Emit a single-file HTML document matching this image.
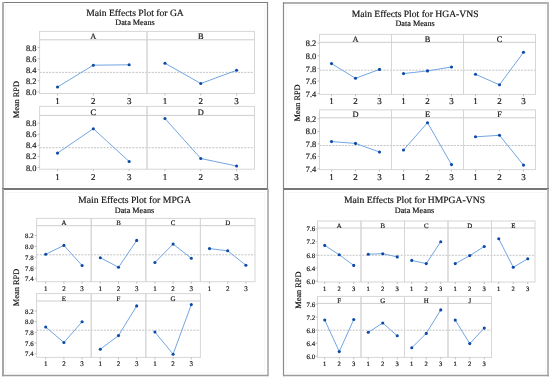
<!DOCTYPE html>
<html><head><meta charset="utf-8"><title>Main Effects Plots</title>
<style>
html,body{margin:0;padding:0;background:#fff;}
body{width:550px;height:382px;overflow:hidden;}
svg{display:block;}
text{text-rendering:geometricPrecision;font-family:"Liberation Serif", "Times New Roman", serif;fill:#111;stroke:#111;stroke-width:0.18px;}
</style></head><body>
<svg width="550" height="382" viewBox="0 0 550 382">
<rect x="0" y="0" width="550" height="382" fill="#fff"/>
<rect x="5.5" y="5.5" width="259" height="180" fill="none" stroke="#f7f7f7" stroke-width="1"/>
<text x="135" y="16.4" font-size="9.65" text-anchor="middle">Main Effects Plot for GA</text>
<text x="135" y="25.2" font-size="8.2" text-anchor="middle">Data Means</text>
<text transform="translate(19.1,99.6) rotate(-90)" font-size="8.3" text-anchor="middle">Mean RPD</text>
<line x1="39.6" y1="72.4" x2="254.5" y2="72.4" stroke="#bcbcbc" stroke-width="0.9" stroke-dasharray="2 1.2"/>
<rect x="39.6" y="31.4" width="107.45" height="62.1" fill="none" stroke="#d6d6d6" stroke-width="1"/>
<line x1="39.6" y1="39.8" x2="147.05" y2="39.8" stroke="#cecece" stroke-width="1"/>
<text x="93.33" y="38.95" font-size="8.4" text-anchor="middle">A</text>
<polyline points="57.51,87 93.33,65.2 129.14,64.8" fill="none" stroke="#6aa0e0" stroke-width="0.95"/>
<circle cx="57.51" cy="87" r="1.55" fill="#0b4aa6"/>
<circle cx="93.33" cy="65.2" r="1.55" fill="#0b4aa6"/>
<circle cx="129.14" cy="64.8" r="1.55" fill="#0b4aa6"/>
<line x1="57.51" y1="93.5" x2="57.51" y2="95.5" stroke="#b0b0b0" stroke-width="0.8"/>
<text x="57.51" y="104.2" font-size="9" text-anchor="middle">1</text>
<line x1="93.33" y1="93.5" x2="93.33" y2="95.5" stroke="#b0b0b0" stroke-width="0.8"/>
<text x="93.33" y="104.2" font-size="9" text-anchor="middle">2</text>
<line x1="129.14" y1="93.5" x2="129.14" y2="95.5" stroke="#b0b0b0" stroke-width="0.8"/>
<text x="129.14" y="104.2" font-size="9" text-anchor="middle">3</text>
<rect x="147.05" y="31.4" width="107.45" height="62.1" fill="none" stroke="#d6d6d6" stroke-width="1"/>
<line x1="147.05" y1="39.8" x2="254.5" y2="39.8" stroke="#cecece" stroke-width="1"/>
<text x="200.78" y="38.95" font-size="8.4" text-anchor="middle">B</text>
<polyline points="164.96,63.2 200.78,83.5 236.59,70.3" fill="none" stroke="#6aa0e0" stroke-width="0.95"/>
<circle cx="164.96" cy="63.2" r="1.55" fill="#0b4aa6"/>
<circle cx="200.78" cy="83.5" r="1.55" fill="#0b4aa6"/>
<circle cx="236.59" cy="70.3" r="1.55" fill="#0b4aa6"/>
<line x1="164.96" y1="93.5" x2="164.96" y2="95.5" stroke="#b0b0b0" stroke-width="0.8"/>
<text x="164.96" y="104.2" font-size="9" text-anchor="middle">1</text>
<line x1="200.78" y1="93.5" x2="200.78" y2="95.5" stroke="#b0b0b0" stroke-width="0.8"/>
<text x="200.78" y="104.2" font-size="9" text-anchor="middle">2</text>
<line x1="236.59" y1="93.5" x2="236.59" y2="95.5" stroke="#b0b0b0" stroke-width="0.8"/>
<text x="236.59" y="104.2" font-size="9" text-anchor="middle">3</text>
<line x1="37.6" y1="47.5" x2="39.6" y2="47.5" stroke="#b0b0b0" stroke-width="0.8"/>
<text x="36.4" y="50.61" font-size="8.4" text-anchor="end">8.8</text>
<line x1="37.6" y1="58.6" x2="39.6" y2="58.6" stroke="#b0b0b0" stroke-width="0.8"/>
<text x="36.4" y="61.71" font-size="8.4" text-anchor="end">8.6</text>
<line x1="37.6" y1="69.7" x2="39.6" y2="69.7" stroke="#b0b0b0" stroke-width="0.8"/>
<text x="36.4" y="72.81" font-size="8.4" text-anchor="end">8.4</text>
<line x1="37.6" y1="80.8" x2="39.6" y2="80.8" stroke="#b0b0b0" stroke-width="0.8"/>
<text x="36.4" y="83.91" font-size="8.4" text-anchor="end">8.2</text>
<line x1="37.6" y1="91.9" x2="39.6" y2="91.9" stroke="#b0b0b0" stroke-width="0.8"/>
<text x="36.4" y="95.01" font-size="8.4" text-anchor="end">8.0</text>
<line x1="39.6" y1="147.7" x2="254.5" y2="147.7" stroke="#bcbcbc" stroke-width="0.9" stroke-dasharray="2 1.2"/>
<rect x="39.6" y="106.4" width="107.45" height="62.8" fill="none" stroke="#d6d6d6" stroke-width="1"/>
<line x1="39.6" y1="115.4" x2="147.05" y2="115.4" stroke="#cecece" stroke-width="1"/>
<text x="93.33" y="114.55" font-size="8.4" text-anchor="middle">C</text>
<polyline points="57.51,153.1 93.33,128.7 129.14,161.5" fill="none" stroke="#6aa0e0" stroke-width="0.95"/>
<circle cx="57.51" cy="153.1" r="1.55" fill="#0b4aa6"/>
<circle cx="93.33" cy="128.7" r="1.55" fill="#0b4aa6"/>
<circle cx="129.14" cy="161.5" r="1.55" fill="#0b4aa6"/>
<line x1="57.51" y1="169.2" x2="57.51" y2="171.2" stroke="#b0b0b0" stroke-width="0.8"/>
<text x="57.51" y="179.9" font-size="9" text-anchor="middle">1</text>
<line x1="93.33" y1="169.2" x2="93.33" y2="171.2" stroke="#b0b0b0" stroke-width="0.8"/>
<text x="93.33" y="179.9" font-size="9" text-anchor="middle">2</text>
<line x1="129.14" y1="169.2" x2="129.14" y2="171.2" stroke="#b0b0b0" stroke-width="0.8"/>
<text x="129.14" y="179.9" font-size="9" text-anchor="middle">3</text>
<rect x="147.05" y="106.4" width="107.45" height="62.8" fill="none" stroke="#d6d6d6" stroke-width="1"/>
<line x1="147.05" y1="115.4" x2="254.5" y2="115.4" stroke="#cecece" stroke-width="1"/>
<text x="200.78" y="114.55" font-size="8.4" text-anchor="middle">D</text>
<polyline points="164.96,118.5 200.78,158.5 236.59,166" fill="none" stroke="#6aa0e0" stroke-width="0.95"/>
<circle cx="164.96" cy="118.5" r="1.55" fill="#0b4aa6"/>
<circle cx="200.78" cy="158.5" r="1.55" fill="#0b4aa6"/>
<circle cx="236.59" cy="166" r="1.55" fill="#0b4aa6"/>
<line x1="164.96" y1="169.2" x2="164.96" y2="171.2" stroke="#b0b0b0" stroke-width="0.8"/>
<text x="164.96" y="179.9" font-size="9" text-anchor="middle">1</text>
<line x1="200.78" y1="169.2" x2="200.78" y2="171.2" stroke="#b0b0b0" stroke-width="0.8"/>
<text x="200.78" y="179.9" font-size="9" text-anchor="middle">2</text>
<line x1="236.59" y1="169.2" x2="236.59" y2="171.2" stroke="#b0b0b0" stroke-width="0.8"/>
<text x="236.59" y="179.9" font-size="9" text-anchor="middle">3</text>
<line x1="37.6" y1="123.2" x2="39.6" y2="123.2" stroke="#b0b0b0" stroke-width="0.8"/>
<text x="36.4" y="126.31" font-size="8.4" text-anchor="end">8.8</text>
<line x1="37.6" y1="134.25" x2="39.6" y2="134.25" stroke="#b0b0b0" stroke-width="0.8"/>
<text x="36.4" y="137.36" font-size="8.4" text-anchor="end">8.6</text>
<line x1="37.6" y1="145.3" x2="39.6" y2="145.3" stroke="#b0b0b0" stroke-width="0.8"/>
<text x="36.4" y="148.41" font-size="8.4" text-anchor="end">8.4</text>
<line x1="37.6" y1="156.35" x2="39.6" y2="156.35" stroke="#b0b0b0" stroke-width="0.8"/>
<text x="36.4" y="159.46" font-size="8.4" text-anchor="end">8.2</text>
<line x1="37.6" y1="167.4" x2="39.6" y2="167.4" stroke="#b0b0b0" stroke-width="0.8"/>
<text x="36.4" y="170.51" font-size="8.4" text-anchor="end">8.0</text>
<line x1="2" y1="2.5" x2="268" y2="2.5" stroke="#7d7d7d" stroke-width="1.2"/>
<line x1="3" y1="2" x2="3" y2="189" stroke="#aeaeae" stroke-width="2"/>
<line x1="267.5" y1="2" x2="267.5" y2="189" stroke="#888" stroke-width="1.2"/>
<line x1="2" y1="188.5" x2="268" y2="188.5" stroke="#777" stroke-width="1"/>
<rect x="286.5" y="5.5" width="259" height="180" fill="none" stroke="#f7f7f7" stroke-width="1"/>
<text x="415.1" y="16.8" font-size="9.62" text-anchor="middle">Main Effects Plot for HGA-VNS</text>
<text x="415.1" y="25.8" font-size="8.2" text-anchor="middle">Data Means</text>
<text transform="translate(300.4,103) rotate(-90)" font-size="8.3" text-anchor="middle">Mean RPD</text>
<line x1="319.5" y1="70.2" x2="535.5" y2="70.2" stroke="#bcbcbc" stroke-width="0.9" stroke-dasharray="2 1.2"/>
<rect x="319.5" y="34.4" width="72" height="60" fill="none" stroke="#d6d6d6" stroke-width="1"/>
<line x1="319.5" y1="42.3" x2="391.5" y2="42.3" stroke="#cecece" stroke-width="1"/>
<text x="355.5" y="42.2" font-size="8.4" text-anchor="middle">A</text>
<polyline points="331.5,63.6 355.5,78.3 379.5,69.4" fill="none" stroke="#6aa0e0" stroke-width="0.95"/>
<circle cx="331.5" cy="63.6" r="1.55" fill="#0b4aa6"/>
<circle cx="355.5" cy="78.3" r="1.55" fill="#0b4aa6"/>
<circle cx="379.5" cy="69.4" r="1.55" fill="#0b4aa6"/>
<line x1="331.5" y1="94.4" x2="331.5" y2="96.4" stroke="#b0b0b0" stroke-width="0.8"/>
<text x="331.5" y="104.1" font-size="9" text-anchor="middle">1</text>
<line x1="355.5" y1="94.4" x2="355.5" y2="96.4" stroke="#b0b0b0" stroke-width="0.8"/>
<text x="355.5" y="104.1" font-size="9" text-anchor="middle">2</text>
<line x1="379.5" y1="94.4" x2="379.5" y2="96.4" stroke="#b0b0b0" stroke-width="0.8"/>
<text x="379.5" y="104.1" font-size="9" text-anchor="middle">3</text>
<rect x="391.5" y="34.4" width="72" height="60" fill="none" stroke="#d6d6d6" stroke-width="1"/>
<line x1="391.5" y1="42.3" x2="463.5" y2="42.3" stroke="#cecece" stroke-width="1"/>
<text x="427.5" y="42.2" font-size="8.4" text-anchor="middle">B</text>
<polyline points="403.5,73.6 427.5,70.9 451.5,67" fill="none" stroke="#6aa0e0" stroke-width="0.95"/>
<circle cx="403.5" cy="73.6" r="1.55" fill="#0b4aa6"/>
<circle cx="427.5" cy="70.9" r="1.55" fill="#0b4aa6"/>
<circle cx="451.5" cy="67" r="1.55" fill="#0b4aa6"/>
<line x1="403.5" y1="94.4" x2="403.5" y2="96.4" stroke="#b0b0b0" stroke-width="0.8"/>
<text x="403.5" y="104.1" font-size="9" text-anchor="middle">1</text>
<line x1="427.5" y1="94.4" x2="427.5" y2="96.4" stroke="#b0b0b0" stroke-width="0.8"/>
<text x="427.5" y="104.1" font-size="9" text-anchor="middle">2</text>
<line x1="451.5" y1="94.4" x2="451.5" y2="96.4" stroke="#b0b0b0" stroke-width="0.8"/>
<text x="451.5" y="104.1" font-size="9" text-anchor="middle">3</text>
<rect x="463.5" y="34.4" width="72" height="60" fill="none" stroke="#d6d6d6" stroke-width="1"/>
<line x1="463.5" y1="42.3" x2="535.5" y2="42.3" stroke="#cecece" stroke-width="1"/>
<text x="499.5" y="42.2" font-size="8.4" text-anchor="middle">C</text>
<polyline points="475.5,74.3 499.5,84.8 523.5,52.3" fill="none" stroke="#6aa0e0" stroke-width="0.95"/>
<circle cx="475.5" cy="74.3" r="1.55" fill="#0b4aa6"/>
<circle cx="499.5" cy="84.8" r="1.55" fill="#0b4aa6"/>
<circle cx="523.5" cy="52.3" r="1.55" fill="#0b4aa6"/>
<line x1="475.5" y1="94.4" x2="475.5" y2="96.4" stroke="#b0b0b0" stroke-width="0.8"/>
<text x="475.5" y="104.1" font-size="9" text-anchor="middle">1</text>
<line x1="499.5" y1="94.4" x2="499.5" y2="96.4" stroke="#b0b0b0" stroke-width="0.8"/>
<text x="499.5" y="104.1" font-size="9" text-anchor="middle">2</text>
<line x1="523.5" y1="94.4" x2="523.5" y2="96.4" stroke="#b0b0b0" stroke-width="0.8"/>
<text x="523.5" y="104.1" font-size="9" text-anchor="middle">3</text>
<line x1="317.5" y1="43.2" x2="319.5" y2="43.2" stroke="#b0b0b0" stroke-width="0.8"/>
<text x="316.3" y="46.31" font-size="8.4" text-anchor="end">8.2</text>
<line x1="317.5" y1="55.83" x2="319.5" y2="55.83" stroke="#b0b0b0" stroke-width="0.8"/>
<text x="316.3" y="58.93" font-size="8.4" text-anchor="end">8.0</text>
<line x1="317.5" y1="68.45" x2="319.5" y2="68.45" stroke="#b0b0b0" stroke-width="0.8"/>
<text x="316.3" y="71.56" font-size="8.4" text-anchor="end">7.8</text>
<line x1="317.5" y1="81.08" x2="319.5" y2="81.08" stroke="#b0b0b0" stroke-width="0.8"/>
<text x="316.3" y="84.18" font-size="8.4" text-anchor="end">7.6</text>
<line x1="317.5" y1="93.7" x2="319.5" y2="93.7" stroke="#b0b0b0" stroke-width="0.8"/>
<text x="316.3" y="96.81" font-size="8.4" text-anchor="end">7.4</text>
<line x1="319.5" y1="145.5" x2="535.5" y2="145.5" stroke="#bcbcbc" stroke-width="0.9" stroke-dasharray="2 1.2"/>
<rect x="319.5" y="109.9" width="72" height="59.7" fill="none" stroke="#d6d6d6" stroke-width="1"/>
<line x1="319.5" y1="117.8" x2="391.5" y2="117.8" stroke="#cecece" stroke-width="1"/>
<text x="355.5" y="117.3" font-size="8.4" text-anchor="middle">D</text>
<polyline points="331.5,141.6 355.5,143.4 379.5,152" fill="none" stroke="#6aa0e0" stroke-width="0.95"/>
<circle cx="331.5" cy="141.6" r="1.55" fill="#0b4aa6"/>
<circle cx="355.5" cy="143.4" r="1.55" fill="#0b4aa6"/>
<circle cx="379.5" cy="152" r="1.55" fill="#0b4aa6"/>
<line x1="331.5" y1="169.6" x2="331.5" y2="171.6" stroke="#b0b0b0" stroke-width="0.8"/>
<text x="331.5" y="179.8" font-size="9" text-anchor="middle">1</text>
<line x1="355.5" y1="169.6" x2="355.5" y2="171.6" stroke="#b0b0b0" stroke-width="0.8"/>
<text x="355.5" y="179.8" font-size="9" text-anchor="middle">2</text>
<line x1="379.5" y1="169.6" x2="379.5" y2="171.6" stroke="#b0b0b0" stroke-width="0.8"/>
<text x="379.5" y="179.8" font-size="9" text-anchor="middle">3</text>
<rect x="391.5" y="109.9" width="72" height="59.7" fill="none" stroke="#d6d6d6" stroke-width="1"/>
<line x1="391.5" y1="117.8" x2="463.5" y2="117.8" stroke="#cecece" stroke-width="1"/>
<text x="427.5" y="117.3" font-size="8.4" text-anchor="middle">E</text>
<polyline points="403.5,150 427.5,122.7 451.5,164.6" fill="none" stroke="#6aa0e0" stroke-width="0.95"/>
<circle cx="403.5" cy="150" r="1.55" fill="#0b4aa6"/>
<circle cx="427.5" cy="122.7" r="1.55" fill="#0b4aa6"/>
<circle cx="451.5" cy="164.6" r="1.55" fill="#0b4aa6"/>
<line x1="403.5" y1="169.6" x2="403.5" y2="171.6" stroke="#b0b0b0" stroke-width="0.8"/>
<text x="403.5" y="179.8" font-size="9" text-anchor="middle">1</text>
<line x1="427.5" y1="169.6" x2="427.5" y2="171.6" stroke="#b0b0b0" stroke-width="0.8"/>
<text x="427.5" y="179.8" font-size="9" text-anchor="middle">2</text>
<line x1="451.5" y1="169.6" x2="451.5" y2="171.6" stroke="#b0b0b0" stroke-width="0.8"/>
<text x="451.5" y="179.8" font-size="9" text-anchor="middle">3</text>
<rect x="463.5" y="109.9" width="72" height="59.7" fill="none" stroke="#d6d6d6" stroke-width="1"/>
<line x1="463.5" y1="117.8" x2="535.5" y2="117.8" stroke="#cecece" stroke-width="1"/>
<text x="499.5" y="117.3" font-size="8.4" text-anchor="middle">F</text>
<polyline points="475.5,136.8 499.5,135.3 523.5,165.1" fill="none" stroke="#6aa0e0" stroke-width="0.95"/>
<circle cx="475.5" cy="136.8" r="1.55" fill="#0b4aa6"/>
<circle cx="499.5" cy="135.3" r="1.55" fill="#0b4aa6"/>
<circle cx="523.5" cy="165.1" r="1.55" fill="#0b4aa6"/>
<line x1="475.5" y1="169.6" x2="475.5" y2="171.6" stroke="#b0b0b0" stroke-width="0.8"/>
<text x="475.5" y="179.8" font-size="9" text-anchor="middle">1</text>
<line x1="499.5" y1="169.6" x2="499.5" y2="171.6" stroke="#b0b0b0" stroke-width="0.8"/>
<text x="499.5" y="179.8" font-size="9" text-anchor="middle">2</text>
<line x1="523.5" y1="169.6" x2="523.5" y2="171.6" stroke="#b0b0b0" stroke-width="0.8"/>
<text x="523.5" y="179.8" font-size="9" text-anchor="middle">3</text>
<line x1="317.5" y1="118.8" x2="319.5" y2="118.8" stroke="#b0b0b0" stroke-width="0.8"/>
<text x="316.3" y="121.91" font-size="8.4" text-anchor="end">8.2</text>
<line x1="317.5" y1="131.32" x2="319.5" y2="131.32" stroke="#b0b0b0" stroke-width="0.8"/>
<text x="316.3" y="134.43" font-size="8.4" text-anchor="end">8.0</text>
<line x1="317.5" y1="143.85" x2="319.5" y2="143.85" stroke="#b0b0b0" stroke-width="0.8"/>
<text x="316.3" y="146.96" font-size="8.4" text-anchor="end">7.8</text>
<line x1="317.5" y1="156.38" x2="319.5" y2="156.38" stroke="#b0b0b0" stroke-width="0.8"/>
<text x="316.3" y="159.48" font-size="8.4" text-anchor="end">7.6</text>
<line x1="317.5" y1="168.9" x2="319.5" y2="168.9" stroke="#b0b0b0" stroke-width="0.8"/>
<text x="316.3" y="172.01" font-size="8.4" text-anchor="end">7.4</text>
<line x1="283" y1="3" x2="549" y2="3" stroke="#b0b0b0" stroke-width="2"/>
<line x1="283.5" y1="2" x2="283.5" y2="189" stroke="#8a8a8a" stroke-width="1.2"/>
<line x1="548" y1="2" x2="548" y2="189" stroke="#b6b6b6" stroke-width="2"/>
<line x1="283" y1="188.5" x2="549" y2="188.5" stroke="#777" stroke-width="1"/>
<rect x="5.5" y="192.5" width="259" height="180.2" fill="none" stroke="#f7f7f7" stroke-width="1"/>
<text x="134.5" y="203.2" font-size="9.74" text-anchor="middle">Main Effects Plot for MPGA</text>
<text x="134.5" y="213" font-size="8.2" text-anchor="middle">Data Means</text>
<text transform="translate(19.3,287.5) rotate(-90)" font-size="8.4" text-anchor="middle">Mean RPD</text>
<line x1="36.6" y1="254.8" x2="255" y2="254.8" stroke="#bcbcbc" stroke-width="0.9" stroke-dasharray="2 1.2"/>
<rect x="36.6" y="218.4" width="54.6" height="63.3" fill="none" stroke="#d6d6d6" stroke-width="1"/>
<line x1="36.6" y1="225.7" x2="91.2" y2="225.7" stroke="#cecece" stroke-width="1"/>
<text x="63.9" y="225.2" font-size="6.9" text-anchor="middle">A</text>
<polyline points="45.7,254.3 63.9,245.4 82.1,265.5" fill="none" stroke="#6aa0e0" stroke-width="0.95"/>
<circle cx="45.7" cy="254.3" r="1.55" fill="#0b4aa6"/>
<circle cx="63.9" cy="245.4" r="1.55" fill="#0b4aa6"/>
<circle cx="82.1" cy="265.5" r="1.55" fill="#0b4aa6"/>
<line x1="45.7" y1="281.7" x2="45.7" y2="283.7" stroke="#b0b0b0" stroke-width="0.8"/>
<text x="45.7" y="290.9" font-size="7.0" text-anchor="middle">1</text>
<line x1="63.9" y1="281.7" x2="63.9" y2="283.7" stroke="#b0b0b0" stroke-width="0.8"/>
<text x="63.9" y="290.9" font-size="7.0" text-anchor="middle">2</text>
<line x1="82.1" y1="281.7" x2="82.1" y2="283.7" stroke="#b0b0b0" stroke-width="0.8"/>
<text x="82.1" y="290.9" font-size="7.0" text-anchor="middle">3</text>
<rect x="91.2" y="218.4" width="54.6" height="63.3" fill="none" stroke="#d6d6d6" stroke-width="1"/>
<line x1="91.2" y1="225.7" x2="145.8" y2="225.7" stroke="#cecece" stroke-width="1"/>
<text x="118.5" y="225.2" font-size="6.9" text-anchor="middle">B</text>
<polyline points="100.3,257.7 118.5,267.3 136.7,240.4" fill="none" stroke="#6aa0e0" stroke-width="0.95"/>
<circle cx="100.3" cy="257.7" r="1.55" fill="#0b4aa6"/>
<circle cx="118.5" cy="267.3" r="1.55" fill="#0b4aa6"/>
<circle cx="136.7" cy="240.4" r="1.55" fill="#0b4aa6"/>
<line x1="100.3" y1="281.7" x2="100.3" y2="283.7" stroke="#b0b0b0" stroke-width="0.8"/>
<text x="100.3" y="290.9" font-size="7.0" text-anchor="middle">1</text>
<line x1="118.5" y1="281.7" x2="118.5" y2="283.7" stroke="#b0b0b0" stroke-width="0.8"/>
<text x="118.5" y="290.9" font-size="7.0" text-anchor="middle">2</text>
<line x1="136.7" y1="281.7" x2="136.7" y2="283.7" stroke="#b0b0b0" stroke-width="0.8"/>
<text x="136.7" y="290.9" font-size="7.0" text-anchor="middle">3</text>
<rect x="145.8" y="218.4" width="54.6" height="63.3" fill="none" stroke="#d6d6d6" stroke-width="1"/>
<line x1="145.8" y1="225.7" x2="200.4" y2="225.7" stroke="#cecece" stroke-width="1"/>
<text x="173.1" y="225.2" font-size="6.9" text-anchor="middle">C</text>
<polyline points="154.9,262.5 173.1,244.1 191.3,258.2" fill="none" stroke="#6aa0e0" stroke-width="0.95"/>
<circle cx="154.9" cy="262.5" r="1.55" fill="#0b4aa6"/>
<circle cx="173.1" cy="244.1" r="1.55" fill="#0b4aa6"/>
<circle cx="191.3" cy="258.2" r="1.55" fill="#0b4aa6"/>
<line x1="154.9" y1="281.7" x2="154.9" y2="283.7" stroke="#b0b0b0" stroke-width="0.8"/>
<text x="154.9" y="290.9" font-size="7.0" text-anchor="middle">1</text>
<line x1="173.1" y1="281.7" x2="173.1" y2="283.7" stroke="#b0b0b0" stroke-width="0.8"/>
<text x="173.1" y="290.9" font-size="7.0" text-anchor="middle">2</text>
<line x1="191.3" y1="281.7" x2="191.3" y2="283.7" stroke="#b0b0b0" stroke-width="0.8"/>
<text x="191.3" y="290.9" font-size="7.0" text-anchor="middle">3</text>
<rect x="200.4" y="218.4" width="54.6" height="63.3" fill="none" stroke="#d6d6d6" stroke-width="1"/>
<line x1="200.4" y1="225.7" x2="255" y2="225.7" stroke="#cecece" stroke-width="1"/>
<text x="227.7" y="225.2" font-size="6.9" text-anchor="middle">D</text>
<polyline points="209.5,248.6 227.7,250.8 245.9,265.2" fill="none" stroke="#6aa0e0" stroke-width="0.95"/>
<circle cx="209.5" cy="248.6" r="1.55" fill="#0b4aa6"/>
<circle cx="227.7" cy="250.8" r="1.55" fill="#0b4aa6"/>
<circle cx="245.9" cy="265.2" r="1.55" fill="#0b4aa6"/>
<line x1="209.5" y1="281.7" x2="209.5" y2="283.7" stroke="#b0b0b0" stroke-width="0.8"/>
<text x="209.5" y="290.9" font-size="7.0" text-anchor="middle">1</text>
<line x1="227.7" y1="281.7" x2="227.7" y2="283.7" stroke="#b0b0b0" stroke-width="0.8"/>
<text x="227.7" y="290.9" font-size="7.0" text-anchor="middle">2</text>
<line x1="245.9" y1="281.7" x2="245.9" y2="283.7" stroke="#b0b0b0" stroke-width="0.8"/>
<text x="245.9" y="290.9" font-size="7.0" text-anchor="middle">3</text>
<line x1="34.6" y1="235.5" x2="36.6" y2="235.5" stroke="#b0b0b0" stroke-width="0.8"/>
<text x="33.6" y="238.02" font-size="6.8" text-anchor="end">8.2</text>
<line x1="34.6" y1="246.35" x2="36.6" y2="246.35" stroke="#b0b0b0" stroke-width="0.8"/>
<text x="33.6" y="248.87" font-size="6.8" text-anchor="end">8.0</text>
<line x1="34.6" y1="257.2" x2="36.6" y2="257.2" stroke="#b0b0b0" stroke-width="0.8"/>
<text x="33.6" y="259.72" font-size="6.8" text-anchor="end">7.8</text>
<line x1="34.6" y1="268.05" x2="36.6" y2="268.05" stroke="#b0b0b0" stroke-width="0.8"/>
<text x="33.6" y="270.57" font-size="6.8" text-anchor="end">7.6</text>
<line x1="34.6" y1="278.9" x2="36.6" y2="278.9" stroke="#b0b0b0" stroke-width="0.8"/>
<text x="33.6" y="281.42" font-size="6.8" text-anchor="end">7.4</text>
<line x1="36.6" y1="330.2" x2="200.4" y2="330.2" stroke="#bcbcbc" stroke-width="0.9" stroke-dasharray="2 1.2"/>
<rect x="36.6" y="293.6" width="54.6" height="63.8" fill="none" stroke="#d6d6d6" stroke-width="1"/>
<line x1="36.6" y1="301" x2="91.2" y2="301" stroke="#cecece" stroke-width="1"/>
<text x="63.9" y="300.5" font-size="6.9" text-anchor="middle">E</text>
<polyline points="45.7,327 63.9,342.5 82.1,321.7" fill="none" stroke="#6aa0e0" stroke-width="0.95"/>
<circle cx="45.7" cy="327" r="1.55" fill="#0b4aa6"/>
<circle cx="63.9" cy="342.5" r="1.55" fill="#0b4aa6"/>
<circle cx="82.1" cy="321.7" r="1.55" fill="#0b4aa6"/>
<line x1="45.7" y1="357.4" x2="45.7" y2="359.4" stroke="#b0b0b0" stroke-width="0.8"/>
<text x="45.7" y="366" font-size="7.0" text-anchor="middle">1</text>
<line x1="63.9" y1="357.4" x2="63.9" y2="359.4" stroke="#b0b0b0" stroke-width="0.8"/>
<text x="63.9" y="366" font-size="7.0" text-anchor="middle">2</text>
<line x1="82.1" y1="357.4" x2="82.1" y2="359.4" stroke="#b0b0b0" stroke-width="0.8"/>
<text x="82.1" y="366" font-size="7.0" text-anchor="middle">3</text>
<rect x="91.2" y="293.6" width="54.6" height="63.8" fill="none" stroke="#d6d6d6" stroke-width="1"/>
<line x1="91.2" y1="301" x2="145.8" y2="301" stroke="#cecece" stroke-width="1"/>
<text x="118.5" y="300.5" font-size="6.9" text-anchor="middle">F</text>
<polyline points="100.3,349.2 118.5,335.6 136.7,305.9" fill="none" stroke="#6aa0e0" stroke-width="0.95"/>
<circle cx="100.3" cy="349.2" r="1.55" fill="#0b4aa6"/>
<circle cx="118.5" cy="335.6" r="1.55" fill="#0b4aa6"/>
<circle cx="136.7" cy="305.9" r="1.55" fill="#0b4aa6"/>
<line x1="100.3" y1="357.4" x2="100.3" y2="359.4" stroke="#b0b0b0" stroke-width="0.8"/>
<text x="100.3" y="366" font-size="7.0" text-anchor="middle">1</text>
<line x1="118.5" y1="357.4" x2="118.5" y2="359.4" stroke="#b0b0b0" stroke-width="0.8"/>
<text x="118.5" y="366" font-size="7.0" text-anchor="middle">2</text>
<line x1="136.7" y1="357.4" x2="136.7" y2="359.4" stroke="#b0b0b0" stroke-width="0.8"/>
<text x="136.7" y="366" font-size="7.0" text-anchor="middle">3</text>
<rect x="145.8" y="293.6" width="54.6" height="63.8" fill="none" stroke="#d6d6d6" stroke-width="1"/>
<line x1="145.8" y1="301" x2="200.4" y2="301" stroke="#cecece" stroke-width="1"/>
<text x="173.1" y="300.5" font-size="6.9" text-anchor="middle">G</text>
<polyline points="154.9,332 173.1,354.2 191.3,304.6" fill="none" stroke="#6aa0e0" stroke-width="0.95"/>
<circle cx="154.9" cy="332" r="1.55" fill="#0b4aa6"/>
<circle cx="173.1" cy="354.2" r="1.55" fill="#0b4aa6"/>
<circle cx="191.3" cy="304.6" r="1.55" fill="#0b4aa6"/>
<line x1="154.9" y1="357.4" x2="154.9" y2="359.4" stroke="#b0b0b0" stroke-width="0.8"/>
<text x="154.9" y="366" font-size="7.0" text-anchor="middle">1</text>
<line x1="173.1" y1="357.4" x2="173.1" y2="359.4" stroke="#b0b0b0" stroke-width="0.8"/>
<text x="173.1" y="366" font-size="7.0" text-anchor="middle">2</text>
<line x1="191.3" y1="357.4" x2="191.3" y2="359.4" stroke="#b0b0b0" stroke-width="0.8"/>
<text x="191.3" y="366" font-size="7.0" text-anchor="middle">3</text>
<line x1="34.6" y1="311" x2="36.6" y2="311" stroke="#b0b0b0" stroke-width="0.8"/>
<text x="33.6" y="313.52" font-size="6.8" text-anchor="end">8.2</text>
<line x1="34.6" y1="321.7" x2="36.6" y2="321.7" stroke="#b0b0b0" stroke-width="0.8"/>
<text x="33.6" y="324.22" font-size="6.8" text-anchor="end">8.0</text>
<line x1="34.6" y1="332.4" x2="36.6" y2="332.4" stroke="#b0b0b0" stroke-width="0.8"/>
<text x="33.6" y="334.92" font-size="6.8" text-anchor="end">7.8</text>
<line x1="34.6" y1="343.1" x2="36.6" y2="343.1" stroke="#b0b0b0" stroke-width="0.8"/>
<text x="33.6" y="345.62" font-size="6.8" text-anchor="end">7.6</text>
<line x1="34.6" y1="353.8" x2="36.6" y2="353.8" stroke="#b0b0b0" stroke-width="0.8"/>
<text x="33.6" y="356.32" font-size="6.8" text-anchor="end">7.4</text>
<line x1="2" y1="189.5" x2="268" y2="189.5" stroke="#777" stroke-width="1"/>
<line x1="3" y1="189" x2="3" y2="376.2" stroke="#a6a6a6" stroke-width="2"/>
<line x1="268" y1="189" x2="268" y2="376.2" stroke="#a8a8a8" stroke-width="1.6"/>
<line x1="2" y1="375.4" x2="268" y2="375.4" stroke="#9c9c9c" stroke-width="1.5"/>
<rect x="286.5" y="192.5" width="259" height="180.2" fill="none" stroke="#f7f7f7" stroke-width="1"/>
<text x="414.5" y="203.1" font-size="9.64" text-anchor="middle">Main Effects Plot for HMPGA-VNS</text>
<text x="414.5" y="213" font-size="8.2" text-anchor="middle">Data Means</text>
<text transform="translate(300.9,290.1) rotate(-90)" font-size="8.3" text-anchor="middle">Mean RPD</text>
<line x1="317.5" y1="255.3" x2="535" y2="255.3" stroke="#bcbcbc" stroke-width="0.9" stroke-dasharray="2 1.2"/>
<rect x="317.5" y="221" width="43.5" height="61" fill="none" stroke="#d6d6d6" stroke-width="1"/>
<line x1="317.5" y1="228" x2="361" y2="228" stroke="#cecece" stroke-width="1"/>
<text x="339.25" y="227.9" font-size="6.8" text-anchor="middle">A</text>
<polyline points="324.75,245.4 339.25,254.8 353.75,265.4" fill="none" stroke="#6aa0e0" stroke-width="0.95"/>
<circle cx="324.75" cy="245.4" r="1.55" fill="#0b4aa6"/>
<circle cx="339.25" cy="254.8" r="1.55" fill="#0b4aa6"/>
<circle cx="353.75" cy="265.4" r="1.55" fill="#0b4aa6"/>
<line x1="324.75" y1="282" x2="324.75" y2="284" stroke="#b0b0b0" stroke-width="0.8"/>
<text x="324.75" y="291" font-size="6.6" text-anchor="middle">1</text>
<line x1="339.25" y1="282" x2="339.25" y2="284" stroke="#b0b0b0" stroke-width="0.8"/>
<text x="339.25" y="291" font-size="6.6" text-anchor="middle">2</text>
<line x1="353.75" y1="282" x2="353.75" y2="284" stroke="#b0b0b0" stroke-width="0.8"/>
<text x="353.75" y="291" font-size="6.6" text-anchor="middle">3</text>
<rect x="361" y="221" width="43.5" height="61" fill="none" stroke="#d6d6d6" stroke-width="1"/>
<line x1="361" y1="228" x2="404.5" y2="228" stroke="#cecece" stroke-width="1"/>
<text x="382.75" y="227.9" font-size="6.8" text-anchor="middle">B</text>
<polyline points="368.25,254.2 382.75,253.7 397.25,256.9" fill="none" stroke="#6aa0e0" stroke-width="0.95"/>
<circle cx="368.25" cy="254.2" r="1.55" fill="#0b4aa6"/>
<circle cx="382.75" cy="253.7" r="1.55" fill="#0b4aa6"/>
<circle cx="397.25" cy="256.9" r="1.55" fill="#0b4aa6"/>
<line x1="368.25" y1="282" x2="368.25" y2="284" stroke="#b0b0b0" stroke-width="0.8"/>
<text x="368.25" y="291" font-size="6.6" text-anchor="middle">1</text>
<line x1="382.75" y1="282" x2="382.75" y2="284" stroke="#b0b0b0" stroke-width="0.8"/>
<text x="382.75" y="291" font-size="6.6" text-anchor="middle">2</text>
<line x1="397.25" y1="282" x2="397.25" y2="284" stroke="#b0b0b0" stroke-width="0.8"/>
<text x="397.25" y="291" font-size="6.6" text-anchor="middle">3</text>
<rect x="404.5" y="221" width="43.5" height="61" fill="none" stroke="#d6d6d6" stroke-width="1"/>
<line x1="404.5" y1="228" x2="448" y2="228" stroke="#cecece" stroke-width="1"/>
<text x="426.25" y="227.9" font-size="6.8" text-anchor="middle">C</text>
<polyline points="411.75,260.4 426.25,263.6 440.75,241.7" fill="none" stroke="#6aa0e0" stroke-width="0.95"/>
<circle cx="411.75" cy="260.4" r="1.55" fill="#0b4aa6"/>
<circle cx="426.25" cy="263.6" r="1.55" fill="#0b4aa6"/>
<circle cx="440.75" cy="241.7" r="1.55" fill="#0b4aa6"/>
<line x1="411.75" y1="282" x2="411.75" y2="284" stroke="#b0b0b0" stroke-width="0.8"/>
<text x="411.75" y="291" font-size="6.6" text-anchor="middle">1</text>
<line x1="426.25" y1="282" x2="426.25" y2="284" stroke="#b0b0b0" stroke-width="0.8"/>
<text x="426.25" y="291" font-size="6.6" text-anchor="middle">2</text>
<line x1="440.75" y1="282" x2="440.75" y2="284" stroke="#b0b0b0" stroke-width="0.8"/>
<text x="440.75" y="291" font-size="6.6" text-anchor="middle">3</text>
<rect x="448" y="221" width="43.5" height="61" fill="none" stroke="#d6d6d6" stroke-width="1"/>
<line x1="448" y1="228" x2="491.5" y2="228" stroke="#cecece" stroke-width="1"/>
<text x="469.75" y="227.9" font-size="6.8" text-anchor="middle">D</text>
<polyline points="455.25,263.6 469.75,255.6 484.25,246.5" fill="none" stroke="#6aa0e0" stroke-width="0.95"/>
<circle cx="455.25" cy="263.6" r="1.55" fill="#0b4aa6"/>
<circle cx="469.75" cy="255.6" r="1.55" fill="#0b4aa6"/>
<circle cx="484.25" cy="246.5" r="1.55" fill="#0b4aa6"/>
<line x1="455.25" y1="282" x2="455.25" y2="284" stroke="#b0b0b0" stroke-width="0.8"/>
<text x="455.25" y="291" font-size="6.6" text-anchor="middle">1</text>
<line x1="469.75" y1="282" x2="469.75" y2="284" stroke="#b0b0b0" stroke-width="0.8"/>
<text x="469.75" y="291" font-size="6.6" text-anchor="middle">2</text>
<line x1="484.25" y1="282" x2="484.25" y2="284" stroke="#b0b0b0" stroke-width="0.8"/>
<text x="484.25" y="291" font-size="6.6" text-anchor="middle">3</text>
<rect x="491.5" y="221" width="43.5" height="61" fill="none" stroke="#d6d6d6" stroke-width="1"/>
<line x1="491.5" y1="228" x2="535" y2="228" stroke="#cecece" stroke-width="1"/>
<text x="513.25" y="227.9" font-size="6.8" text-anchor="middle">E</text>
<polyline points="498.75,238.8 513.25,267.3 527.75,258.8" fill="none" stroke="#6aa0e0" stroke-width="0.95"/>
<circle cx="498.75" cy="238.8" r="1.55" fill="#0b4aa6"/>
<circle cx="513.25" cy="267.3" r="1.55" fill="#0b4aa6"/>
<circle cx="527.75" cy="258.8" r="1.55" fill="#0b4aa6"/>
<line x1="498.75" y1="282" x2="498.75" y2="284" stroke="#b0b0b0" stroke-width="0.8"/>
<text x="498.75" y="291" font-size="6.6" text-anchor="middle">1</text>
<line x1="513.25" y1="282" x2="513.25" y2="284" stroke="#b0b0b0" stroke-width="0.8"/>
<text x="513.25" y="291" font-size="6.6" text-anchor="middle">2</text>
<line x1="527.75" y1="282" x2="527.75" y2="284" stroke="#b0b0b0" stroke-width="0.8"/>
<text x="527.75" y="291" font-size="6.6" text-anchor="middle">3</text>
<line x1="315.5" y1="228.8" x2="317.5" y2="228.8" stroke="#b0b0b0" stroke-width="0.8"/>
<text x="315.1" y="231.32" font-size="6.8" text-anchor="end">7.6</text>
<line x1="315.5" y1="241.9" x2="317.5" y2="241.9" stroke="#b0b0b0" stroke-width="0.8"/>
<text x="315.1" y="244.42" font-size="6.8" text-anchor="end">7.2</text>
<line x1="315.5" y1="255" x2="317.5" y2="255" stroke="#b0b0b0" stroke-width="0.8"/>
<text x="315.1" y="257.52" font-size="6.8" text-anchor="end">6.8</text>
<line x1="315.5" y1="268.1" x2="317.5" y2="268.1" stroke="#b0b0b0" stroke-width="0.8"/>
<text x="315.1" y="270.62" font-size="6.8" text-anchor="end">6.4</text>
<line x1="315.5" y1="281.2" x2="317.5" y2="281.2" stroke="#b0b0b0" stroke-width="0.8"/>
<text x="315.1" y="283.72" font-size="6.8" text-anchor="end">6.0</text>
<line x1="317.5" y1="330.2" x2="491.5" y2="330.2" stroke="#bcbcbc" stroke-width="0.9" stroke-dasharray="2 1.2"/>
<rect x="317.5" y="296.4" width="43.5" height="61" fill="none" stroke="#d6d6d6" stroke-width="1"/>
<line x1="317.5" y1="303.4" x2="361" y2="303.4" stroke="#cecece" stroke-width="1"/>
<text x="339.25" y="303.3" font-size="6.8" text-anchor="middle">F</text>
<polyline points="324.75,320 339.25,351.6 353.75,319.5" fill="none" stroke="#6aa0e0" stroke-width="0.95"/>
<circle cx="324.75" cy="320" r="1.55" fill="#0b4aa6"/>
<circle cx="339.25" cy="351.6" r="1.55" fill="#0b4aa6"/>
<circle cx="353.75" cy="319.5" r="1.55" fill="#0b4aa6"/>
<line x1="324.75" y1="357.4" x2="324.75" y2="359.4" stroke="#b0b0b0" stroke-width="0.8"/>
<text x="324.75" y="366" font-size="6.6" text-anchor="middle">1</text>
<line x1="339.25" y1="357.4" x2="339.25" y2="359.4" stroke="#b0b0b0" stroke-width="0.8"/>
<text x="339.25" y="366" font-size="6.6" text-anchor="middle">2</text>
<line x1="353.75" y1="357.4" x2="353.75" y2="359.4" stroke="#b0b0b0" stroke-width="0.8"/>
<text x="353.75" y="366" font-size="6.6" text-anchor="middle">3</text>
<rect x="361" y="296.4" width="43.5" height="61" fill="none" stroke="#d6d6d6" stroke-width="1"/>
<line x1="361" y1="303.4" x2="404.5" y2="303.4" stroke="#cecece" stroke-width="1"/>
<text x="382.75" y="303.3" font-size="6.8" text-anchor="middle">G</text>
<polyline points="368.25,332.3 382.75,323 397.25,335.8" fill="none" stroke="#6aa0e0" stroke-width="0.95"/>
<circle cx="368.25" cy="332.3" r="1.55" fill="#0b4aa6"/>
<circle cx="382.75" cy="323" r="1.55" fill="#0b4aa6"/>
<circle cx="397.25" cy="335.8" r="1.55" fill="#0b4aa6"/>
<line x1="368.25" y1="357.4" x2="368.25" y2="359.4" stroke="#b0b0b0" stroke-width="0.8"/>
<text x="368.25" y="366" font-size="6.6" text-anchor="middle">1</text>
<line x1="382.75" y1="357.4" x2="382.75" y2="359.4" stroke="#b0b0b0" stroke-width="0.8"/>
<text x="382.75" y="366" font-size="6.6" text-anchor="middle">2</text>
<line x1="397.25" y1="357.4" x2="397.25" y2="359.4" stroke="#b0b0b0" stroke-width="0.8"/>
<text x="397.25" y="366" font-size="6.6" text-anchor="middle">3</text>
<rect x="404.5" y="296.4" width="43.5" height="61" fill="none" stroke="#d6d6d6" stroke-width="1"/>
<line x1="404.5" y1="303.4" x2="448" y2="303.4" stroke="#cecece" stroke-width="1"/>
<text x="426.25" y="303.3" font-size="6.8" text-anchor="middle">H</text>
<polyline points="411.75,347.8 426.25,333.4 440.75,309.9" fill="none" stroke="#6aa0e0" stroke-width="0.95"/>
<circle cx="411.75" cy="347.8" r="1.55" fill="#0b4aa6"/>
<circle cx="426.25" cy="333.4" r="1.55" fill="#0b4aa6"/>
<circle cx="440.75" cy="309.9" r="1.55" fill="#0b4aa6"/>
<line x1="411.75" y1="357.4" x2="411.75" y2="359.4" stroke="#b0b0b0" stroke-width="0.8"/>
<text x="411.75" y="366" font-size="6.6" text-anchor="middle">1</text>
<line x1="426.25" y1="357.4" x2="426.25" y2="359.4" stroke="#b0b0b0" stroke-width="0.8"/>
<text x="426.25" y="366" font-size="6.6" text-anchor="middle">2</text>
<line x1="440.75" y1="357.4" x2="440.75" y2="359.4" stroke="#b0b0b0" stroke-width="0.8"/>
<text x="440.75" y="366" font-size="6.6" text-anchor="middle">3</text>
<rect x="448" y="296.4" width="43.5" height="61" fill="none" stroke="#d6d6d6" stroke-width="1"/>
<line x1="448" y1="303.4" x2="491.5" y2="303.4" stroke="#cecece" stroke-width="1"/>
<text x="469.75" y="303.3" font-size="6.8" text-anchor="middle">J</text>
<polyline points="455.25,320.1 469.75,343.6 484.25,328.1" fill="none" stroke="#6aa0e0" stroke-width="0.95"/>
<circle cx="455.25" cy="320.1" r="1.55" fill="#0b4aa6"/>
<circle cx="469.75" cy="343.6" r="1.55" fill="#0b4aa6"/>
<circle cx="484.25" cy="328.1" r="1.55" fill="#0b4aa6"/>
<line x1="455.25" y1="357.4" x2="455.25" y2="359.4" stroke="#b0b0b0" stroke-width="0.8"/>
<text x="455.25" y="366" font-size="6.6" text-anchor="middle">1</text>
<line x1="469.75" y1="357.4" x2="469.75" y2="359.4" stroke="#b0b0b0" stroke-width="0.8"/>
<text x="469.75" y="366" font-size="6.6" text-anchor="middle">2</text>
<line x1="484.25" y1="357.4" x2="484.25" y2="359.4" stroke="#b0b0b0" stroke-width="0.8"/>
<text x="484.25" y="366" font-size="6.6" text-anchor="middle">3</text>
<line x1="315.5" y1="304" x2="317.5" y2="304" stroke="#b0b0b0" stroke-width="0.8"/>
<text x="315.1" y="306.52" font-size="6.8" text-anchor="end">7.6</text>
<line x1="315.5" y1="317.07" x2="317.5" y2="317.07" stroke="#b0b0b0" stroke-width="0.8"/>
<text x="315.1" y="319.59" font-size="6.8" text-anchor="end">7.2</text>
<line x1="315.5" y1="330.15" x2="317.5" y2="330.15" stroke="#b0b0b0" stroke-width="0.8"/>
<text x="315.1" y="332.67" font-size="6.8" text-anchor="end">6.8</text>
<line x1="315.5" y1="343.23" x2="317.5" y2="343.23" stroke="#b0b0b0" stroke-width="0.8"/>
<text x="315.1" y="345.74" font-size="6.8" text-anchor="end">6.4</text>
<line x1="315.5" y1="356.3" x2="317.5" y2="356.3" stroke="#b0b0b0" stroke-width="0.8"/>
<text x="315.1" y="358.82" font-size="6.8" text-anchor="end">6.0</text>
<line x1="283" y1="189.5" x2="549" y2="189.5" stroke="#777" stroke-width="1"/>
<line x1="283.5" y1="189" x2="283.5" y2="376.2" stroke="#8a8a8a" stroke-width="1.2"/>
<line x1="548" y1="189" x2="548" y2="376.2" stroke="#b6b6b6" stroke-width="2"/>
<line x1="283" y1="375.4" x2="549" y2="375.4" stroke="#9c9c9c" stroke-width="1.5"/>
</svg>
</body></html>
